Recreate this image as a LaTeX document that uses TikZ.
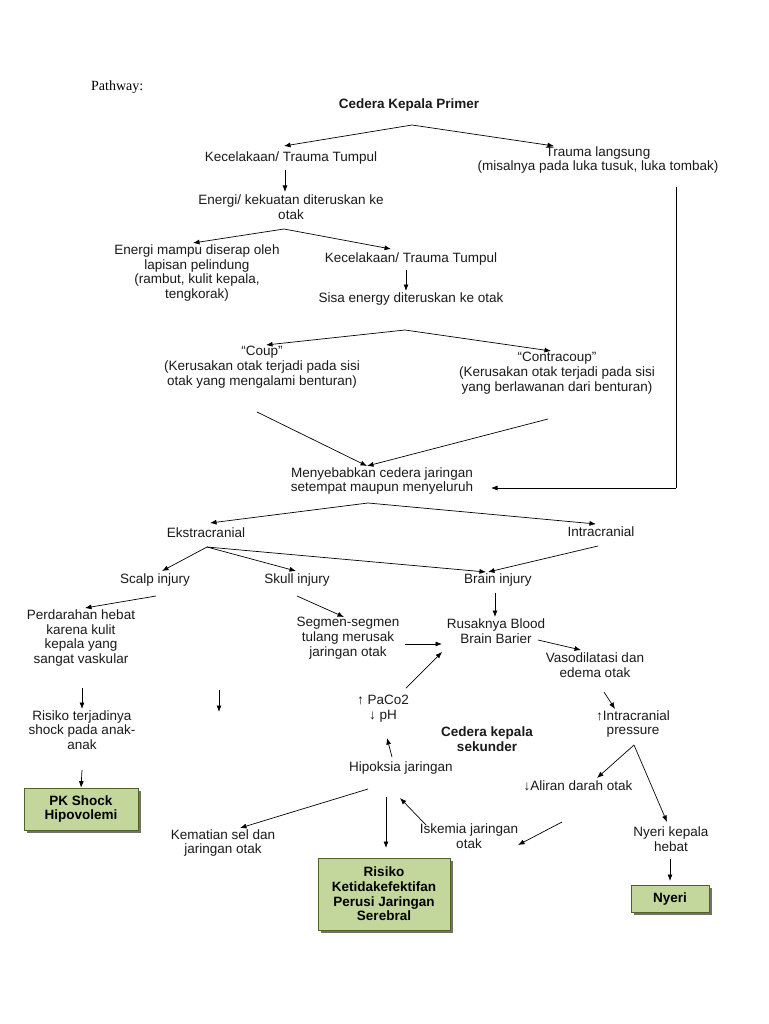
\documentclass[tikz,border=0pt]{standalone}
\usepackage{fontspec}
\setmainfont{Liberation Sans}
\newfontfamily\timesf{Liberation Serif}
\usetikzlibrary{arrows.meta,shadows}
\definecolor{boxgreen}{HTML}{C3D69B}
\definecolor{boxedge}{HTML}{4F6228}
\definecolor{ink}{HTML}{1A1A1A}
\tikzset{
  txt/.style={inner sep=0pt, align=center, text=ink, font=\fontsize{13.5}{14.7}\selectfont},
  bold/.style={txt, font=\fontsize{13.5}{14.7}\selectfont\bfseries},
  arr/.style={-{Latex[length=6.5pt,width=5pt]}, line width=0.7pt, draw=black},
  ln/.style={line width=0.7pt, draw=black},
  gbox/.style={draw=boxedge, fill=boxgreen, line width=0.7pt, inner sep=0pt, align=center,
     text=black, font=\fontsize{13.5}{14.7}\selectfont\bfseries,
     drop shadow={shadow xshift=2.5pt, shadow yshift=-2.5pt, fill=black!65, opacity=0.85}}
}
\begin{document}
\begin{tikzpicture}[x=1pt,y=-1pt]
\useasboundingbox[fill=white] (0,0) rectangle (768,1024);
% ---------- nodes ----------
\node[inner sep=0pt, anchor=west, font=\timesf\fontsize{14}{16}\selectfont] (path) at (91,87) {Pathway:};
\node[bold] (title) at (409,105) {Cedera Kepala Primer};
\node[txt] (k1) at (291,158) {Kecelakaan/ Trauma Tumpul};
\node[txt] (tl) at (598,160) {Trauma langsung\\(misalnya pada luka tusuk, luka tombak)};
\node[txt] (e1) at (291,207) {Energi/ kekuatan diteruskan ke\\otak};
\node[txt] (e2) at (197,273) {Energi mampu diserap oleh\\lapisan pelindung\\(rambut, kulit kepala,\\tengkorak)};
\node[txt] (k2) at (411,259) {Kecelakaan/ Trauma Tumpul};
\node[txt] (sisa) at (411,299) {Sisa energy diteruskan ke otak};
\node[txt] (coup) at (262,367) {“Coup”\\(Kerusakan otak terjadi pada sisi\\otak yang mengalami benturan)};
\node[txt] (contra) at (557,373) {“Contracoup”\\(Kerusakan otak terjadi pada sisi\\yang berlawanan dari benturan)};
\node[txt] (meny) at (382,481) {Menyebabkan cedera jaringan\\setempat maupun menyeluruh};
\node[txt] (ek) at (206,533) {Ekstracranial};
\node[txt] (in) at (601,532) {Intracranial};
\node[txt] (sc) at (155,580) {Scalp injury};
\node[txt] (sk) at (297,580) {Skull injury};
\node[txt] (br) at (498,580) {Brain injury};
\node[txt] (per) at (81,638) {Perdarahan hebat\\karena kulit\\kepala yang\\sangat vaskular};
\node[txt] (seg) at (348,638) {Segmen-segmen\\tulang merusak\\jaringan otak};
\node[txt] (rus) at (496,631) {Rusaknya Blood\\Brain Barier};
\node[txt] (vas) at (595,665) {Vasodilatasi dan\\edema otak};
\node[txt] (pa) at (383,709) {↑ PaCo2\\↓ pH};
\node[txt] (rs) at (82,730) {Risiko terjadinya\\shock pada anak-\\anak};
\node[txt] (ic) at (633,724) {↑Intracranial\\pressure};
\node[bold] (sek) at (487,739) {Cedera kepala\\sekunder};
\node[txt] (hip) at (401,768) {Hipoksia jaringan};
\node[txt] (al) at (578,786) {↓Aliran darah otak};
\node[txt] (kem) at (223,843) {Kematian sel dan\\jaringan otak};
\node[txt] (isk) at (469,836) {Iskemia jaringan\\otak};
\node[txt] (nk) at (671,839) {Nyeri kepala\\hebat};
\node[gbox, minimum width=114pt, minimum height=42pt] (pk) at (81,809) {PK Shock\\Hipovolemi};
\node[gbox, minimum width=132pt, minimum height=72pt] (rk) at (384,894) {Risiko\\Ketidakefektifan\\Perusi Jaringan\\Serebral};
\node[gbox, minimum width=78pt, minimum height=27pt] (ny) at (670,899) {Nyeri};
% ---------- connector end points ----------
\coordinate (c1) at (412,125);
\coordinate (k1in) at (284,146);
\coordinate (tlin) at (554,146);
\coordinate (k1out) at (285,170);
\coordinate (e1in) at (285,192);
\coordinate (r1) at (676,187);
\coordinate (r2) at (676,488);
\coordinate (menyR) at (491,488);
\coordinate (c2) at (284,229);
\coordinate (e2in) at (193,243);
\coordinate (k2in) at (391,249);
\coordinate (k2out) at (406,270);
\coordinate (sisain) at (406,291);
\coordinate (c3) at (405,330);
\coordinate (coupin) at (266,345);
\coordinate (contrain) at (551,351);
\coordinate (coupout) at (257,412);
\coordinate (contraout) at (548,419);
\coordinate (menyin) at (367,466);
\coordinate (c4) at (368,503);
\coordinate (ekin) at (210,523);
\coordinate (inin) at (596,524);
\coordinate (ekout) at (207,547);
\coordinate (scin) at (162,571);
\coordinate (skin) at (296,571);
\coordinate (brin) at (486,572);
\coordinate (inout) at (598,546);
\coordinate (brin2) at (488,572);
\coordinate (scout) at (156,596);
\coordinate (perin) at (85,608);
\coordinate (skout) at (297,596);
\coordinate (segin) at (344,617);
\coordinate (brout) at (495,593);
\coordinate (rusin) at (495,617);
\coordinate (segout) at (405,644);
\coordinate (rusin2) at (442,644);
\coordinate (rusout) at (538,640);
\coordinate (vasin) at (581,650);
\coordinate (paout) at (406,688);
\coordinate (rusin3) at (442,652);
\coordinate (perout) at (82,688);
\coordinate (rsin) at (82,709);
\coordinate (o1) at (219,690);
\coordinate (o2) at (219,712);
\coordinate (rsout) at (82,770);
\coordinate (vasout) at (604,692);
\coordinate (icin) at (615,709);
\coordinate (hipout1) at (392,757);
\coordinate (pain) at (387,738);
\coordinate (icout) at (634,745);
\coordinate (alin) at (597,778);
\coordinate (nkin) at (667,822);
\coordinate (hipout2) at (368,789);
\coordinate (kemin) at (240,828);
\coordinate (hipout3) at (386,797);
\coordinate (rkin) at (386,848);
\coordinate (iskout) at (426,825);
\coordinate (hipin) at (400,798);
\coordinate (alout) at (562,822);
\coordinate (iskin) at (518,845);
\coordinate (nkout) at (670,859);
\coordinate (nyin) at (670,881);
% ---------- connectors ----------
\draw[arr] (c1) -- (k1in);
\draw[arr] (c1) -- (tlin);
\draw[arr] (k1out) -- (e1in);
\draw[ln] (r1) -- (r2);
\draw[arr] (r2) -- (menyR);
\draw[arr] (c2) -- (e2in);
\draw[arr] (c2) -- (k2in);
\draw[arr] (k2out) -- (sisain);
\draw[arr] (c3) -- (coupin);
\draw[arr] (c3) -- (contrain);
\draw[arr] (coupout) -- (menyin);
\draw[arr] (contraout) -- (menyin);
\draw[arr] (c4) -- (ekin);
\draw[arr] (c4) -- (inin);
\draw[arr] (ekout) -- (scin);
\draw[arr] (ekout) -- (skin);
\draw[arr] (ekout) -- (brin);
\draw[arr] (inout) -- (brin2);
\draw[arr] (scout) -- (perin);
\draw[arr] (skout) -- (segin);
\draw[arr] (brout) -- (rusin);
\draw[arr] (segout) -- (rusin2);
\draw[arr] (rusout) -- (vasin);
\draw[arr] (paout) -- (rusin3);
\draw[arr] (perout) -- (rsin);
\draw[arr] (o1) -- (o2);
\draw[arr] (rsout) -- (pk.north);
\draw[arr] (vasout) -- (icin);
\draw[arr] (hipout1) -- (pain);
\draw[arr] (icout) -- (alin);
\draw[arr] (icout) -- (nkin);
\draw[arr] (hipout2) -- (kemin);
\draw[arr] (hipout3) -- (rkin);
\draw[arr] (iskout) -- (hipin);
\draw[arr] (alout) -- (iskin);
\draw[arr] (nkout) -- (nyin);
\end{tikzpicture}
\end{document}
